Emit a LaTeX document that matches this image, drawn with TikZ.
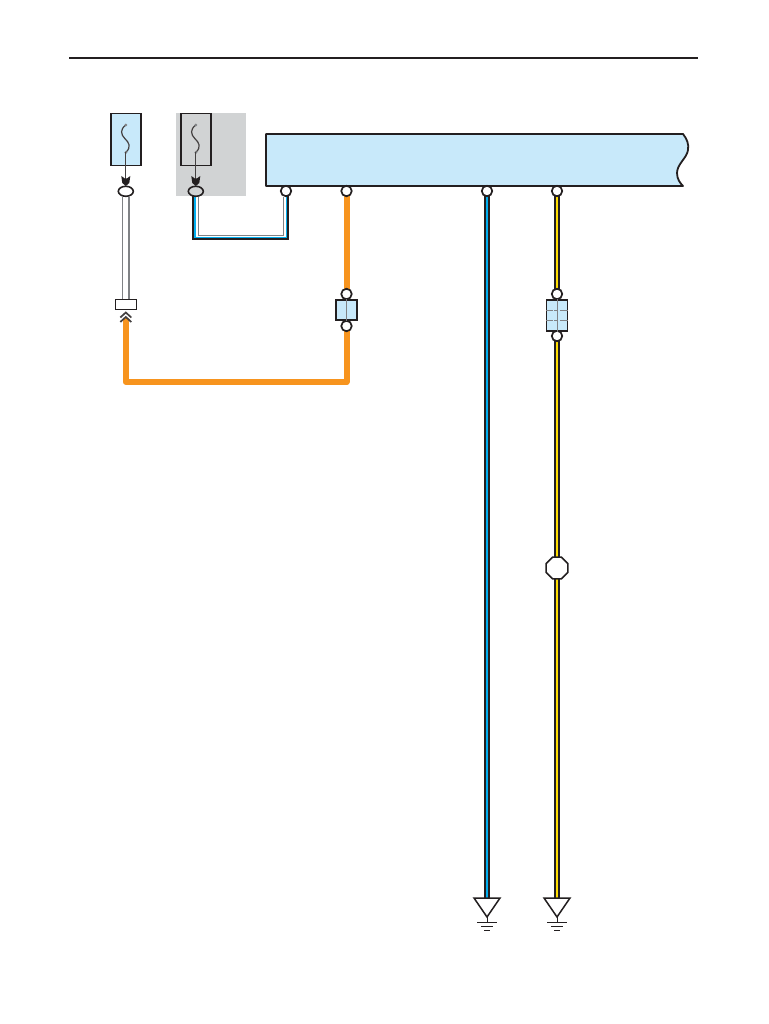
\documentclass[tikz,border=0pt]{standalone}
\usetikzlibrary{shapes.geometric,backgrounds}
\definecolor{dk}{HTML}{231F20}
\definecolor{lb}{HTML}{C8E9FA}
\definecolor{gy}{HTML}{D1D3D4}
\definecolor{mg}{HTML}{808285}
\definecolor{og}{HTML}{F7941E}
\definecolor{bl}{HTML}{00AEEF}
\definecolor{yl}{HTML}{FFDD00}
\tikzset{
 x=1pt,y=-1pt,
 pin/.style={circle,draw=dk,line width=1.7pt,fill=white,minimum size=10.5pt,inner sep=0pt},
 oval/.style={ellipse,draw=dk,line width=1.6pt,minimum width=15pt,minimum height=10pt,inner sep=0pt},
 fusebox/.style={rectangle,draw=dk,line width=1.6pt,minimum width=30pt,minimum height=52pt,inner sep=0pt},
 conn/.style={rectangle,draw=dk,line width=1.5pt,fill=lb,minimum width=21pt,inner sep=0pt},
 octagon/.style={regular polygon,regular polygon sides=8,draw=dk,line width=1.6pt,fill=white,minimum size=23.5pt,inner sep=0pt},
 fusewire/.style={draw=dk!85,line width=1.2pt},
 feed/.style={draw=dk!85,line width=1.1pt},
 divider/.style={draw=mg,line width=1pt},
 orwire/.style={draw=og,line width=6pt,line join=round},
 outer/.style={draw=dk,line width=6.6pt},
 thinframe/.style={draw=dk,line width=1.5pt},
}
\newcommand{\fuseglyph}[1]{%
 \draw[fusewire] ([shift={(0,-14.5)}]#1.center) .. controls ([shift={(-6,-10)}]#1.center) and ([shift={(-5,-5)}]#1.center) .. ([shift={(-1,-1)}]#1.center)
   .. controls ([shift={(3,3)}]#1.center) and ([shift={(6,7)}]#1.center) .. ([shift={(0,13)}]#1.center);
 \fill[mg] ([shift={(0,-14.5)}]#1.center) circle (1.5pt);
 \fill[mg] ([shift={(0,13)}]#1.center) circle (1.5pt);
}
\newcommand{\groundsym}[1]{%
 \draw[thinframe,line join=miter,fill=white] ([shift={(-13,0)}]#1) -- ([shift={(13,0)}]#1) -- ([shift={(0,19)}]#1) -- cycle;
 \draw[dk,line width=1pt] ([shift={(0,19)}]#1) -- ([shift={(0,24)}]#1);
 \draw[dk,line width=1pt] ([shift={(-10,24)}]#1) -- ([shift={(10,24)}]#1);
 \draw[dk,line width=1pt] ([shift={(-6,28)}]#1) -- ([shift={(6,28)}]#1);
 \draw[dk,line width=1pt] ([shift={(-3,32)}]#1) -- ([shift={(3,32)}]#1);
}
\newcommand{\arrowhead}[1]{%
 \fill[dk] ([shift={(-4.5,-9)}]#1) -- ([shift={(-1,-6.5)}]#1) -- ([shift={(1,-6.5)}]#1) -- ([shift={(4.5,-9)}]#1) -- ([shift={(3.5,-2)}]#1) -- ([shift={(0,1)}]#1) -- ([shift={(-3.5,-2)}]#1) -- cycle;
}
\begin{document}
\begin{tikzpicture}
\useasboundingbox (0,0) rectangle (768,1024);
% nodes
\node[fusebox,fill=lb] (f1) at (125.8,139.5) {};
\node[fusebox] (f2) at (195.8,139.5) {};
\node[oval,fill=white] (e1) at (125.8,191.3) {};
\node[oval,fill=gy] (e2) at (195.8,191.3) {};
\node[pin] (p1) at (286,191) {};
\node[pin] (p2) at (346.5,191) {};
\node[pin] (p3) at (487,191) {};
\node[pin] (p4) at (557,191) {};
\node[rectangle,draw=dk,line width=1.4pt,fill=white,minimum width=21pt,minimum height=10.5pt,inner sep=0pt] (c1) at (125.8,304.5) {};
\node[pin] (a1) at (346.5,294) {};
\node[pin] (a2) at (346.5,326) {};
\node[conn,minimum height=20pt] (c2) at (346.5,310) {};
\node[pin] (b1) at (557,294) {};
\node[pin] (b2) at (557,336) {};
\node[conn,minimum height=31pt] (c3) at (557,315.5) {};
\node[octagon] (oct) at (557,568) {};
\coordinate (g1) at (487,898);
\coordinate (g2) at (557,898);
\coordinate (ch) at (125.8,322);
\coordinate (oe) at (125.8,318);
\coordinate (h1) at (125.8,185);
\coordinate (h2) at (195.8,185);
\begin{pgfonlayer}{background}
\fill[white] (0,0) rectangle (768,1024);
\draw[dk,line width=2pt] (69,58) -- (698,58);
\fill[gy] (176,113) rectangle (246,196);
\draw[thinframe,line width=1.8pt,fill=lb,line join=round] (266,134) -- (683,134) .. controls (687,139) and (689,144) .. (688,150)
  .. controls (687,158) and (677,164) .. (677,173) .. controls (677,179) and (680,183) .. (683,186) -- (266,186) -- cycle;
\draw[draw=mg,line width=1.5pt] ([xshift=-3.3]e1.south) -- ([xshift=-3.3]c1.north);
\draw[draw=mg,line width=1.5pt] ([xshift=3.3]e1.south) -- ([xshift=3.3]c1.north);
\draw[dk,line width=2.1pt,line cap=rect] ([xshift=-2.5]e2.south) -- ++(0,42.3) -| ([xshift=2]p1.south);
\draw[bl,line width=1.5pt] ([xshift=-.8]e2.south) -- ++(0,40.6) -| ([xshift=.3]p1.south);
\draw[mg,line width=1.1pt] ([xshift=2.5]e2.south) -- ++(0,38) -| ([xshift=-2.5]p1.south);
\draw[orwire] (p2.center) -- (a1.center);
\draw[orwire] (a2.center) -- (346.5,382) -- (125.8,382) -- (oe);
\draw[outer] (p3.center) -- (g1);
\draw[bl,line width=2.8pt] (p3.center) -- (g1);
\draw[outer] (p4.center) -- (b1.center) (b2.center) -- (oct.center) -- (g2);
\draw[yl,line width=2.8pt] (p4.center) -- (b1.center) (b2.center) -- (oct.center) -- (g2);
\end{pgfonlayer}
% connector details
\draw[divider] (c2.north) -- (c2.south);
\draw[divider] (c3.north) -- (c3.south);
\draw[divider] (c3.west |- 0,310) -- ++(7,0) ++(1.5,0) -- ++(4,0) ++(1.5,0) -- (c3.east |- 0,310);
\draw[divider] (c3.west |- 0,320.5) -- ++(7,0) ++(1.5,0) -- ++(4,0) ++(1.5,0) -- (c3.east |- 0,320.5);
% chevrons
\draw[dk!85,line width=1.7pt] ([shift={(-5.5,-4.5)}]ch) -- ([shift={(0,-9.5)}]ch) -- ([shift={(5.5,-4.5)}]ch);
\draw[dk!85,line width=1.7pt] ([shift={(-5.5,0)}]ch) -- ([shift={(0,-5)}]ch) -- ([shift={(5.5,0)}]ch);
% fuses
\fuseglyph{f1}
\fuseglyph{f2}
\draw[feed] ([shift={(0,13)}]f1.center) -- (h1);
\draw[feed] ([shift={(0,13)}]f2.center) -- (h2);
\arrowhead{h1}
\arrowhead{h2}
\groundsym{g1}
\groundsym{g2}
\end{tikzpicture}
\end{document}
